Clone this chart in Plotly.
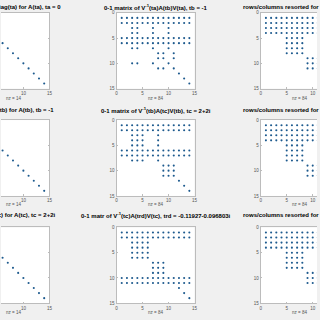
import plotly.graph_objects as go

N = 14
# left column: diagonal pattern
diag_idx = list(range(1, 15))

# middle column patterns (full rows + square blocks)
tb_full = [1, 2, 5, 6]
tb_blocks = [[3, 4, 7, 10], [8, 9, 11], [12], [13], [14]]
tc_full = [1, 2, 6, 7]
tc_blocks = [[3, 4, 5, 8], [9, 10, 11], [12], [13], [14]]
trd_full = [1, 2, 10, 11]
trd_blocks = [[3, 4, 5, 6], [7, 8, 9], [12], [13], [14]]
# right column: resorted pattern
rs_full = [1, 2, 3, 4]
rs_blocks = [[5, 6, 7, 8], [9, 10, 11], [12], [13], [14]]

left_titles = ["0-1 matrix of diag(ta) for A(ta), ta = 0",
               "0-1 matrix of diag(tb) for A(tb), tb = -1",
               "0-1 matrix of diag(tc) for A(tc), tc = 2+2i"]
mid_titles = ["0-1 matrix of V<sup>-1</sup>(ta)A(tb)V(ta), tb = -1",
              "0-1 matrix of V<sup>-1</sup>(tb)A(tc)V(tb), tc = 2+2i",
              "0-1 matr of V<sup>-1</sup>(tc)A(trd)V(tc), trd = -0.11927-0.096803i"]
right_titles = ["rows/columns resorted for V(ta)", "rows/columns resorted for V(tb)", "rows/columns resorted for V(tc)"]
nz_left = 14
nz_other = 84
ticks = [0, 5, 10, 15]


def pattern(full, blocks):
    rr, cc = [], []
    for r in full:
        for c in range(1, N + 1):
            rr.append(r); cc.append(c)
    for b in blocks:
        for r in b:
            for c in b:
                rr.append(r); cc.append(c)
    return cc, rr


W = 320.0
rows_px = [(11, 88), (120, 197), (229, 306)]
title_px = [5, 110, 216]
xlabel_px = [98, 206, 315]
left_title_end = [63, 56, 57]
cols = [  # (domain px left, right, xrange)
    (0, 49, [15 - 15 * 49 / 79, 15]),
    (117, 196, [0, 15]),
    (263, 320, [0, 15 * 57 / 79]),
]

mid_pats = [pattern(tb_full, tb_blocks), pattern(tc_full, tc_blocks), pattern(trd_full, trd_blocks)]
right_pat = pattern(rs_full, rs_blocks)

fig = go.Figure()
layout = dict(width=320, height=320, margin=dict(l=0, r=0, t=0, b=0),
              paper_bgcolor="#f0f0f0", plot_bgcolor="white", showlegend=False)
annotations = []
tfont = dict(family="Liberation Sans", size=4.5, color="#555555")
k = 0
for ri, (ytop, ybot) in enumerate(rows_px):
    for ci, (xl, xr, xrange) in enumerate(cols):
        k += 1
        xa = "xaxis" if k == 1 else f"xaxis{k}"
        ya = "yaxis" if k == 1 else f"yaxis{k}"
        xref = "x" if k == 1 else f"x{k}"
        yref = "y" if k == 1 else f"y{k}"
        if ci == 0:
            xs, ys = diag_idx, diag_idx
        elif ci == 1:
            xs, ys = mid_pats[ri]
        else:
            xs, ys = right_pat
        fig.add_trace(go.Scatter(x=xs, y=ys, mode="markers", xaxis=xref, yaxis=yref,
                                 marker=dict(size=2.1, color="#1d5a8e"), hoverinfo="skip"))
        layout[xa] = dict(domain=[xl / W, xr / W], range=xrange, anchor=yref,
                          tickvals=ticks, showgrid=False, zeroline=False,
                          showline=True, mirror=True, linecolor="#bcbcbc", linewidth=1,
                          ticks="inside", ticklen=1.5, tickcolor="#bcbcbc",
                          tickfont=tfont)
        ydict = dict(domain=[1 - ybot / W, 1 - ytop / W], range=[15, 0], anchor=xref,
                     tickvals=ticks, showgrid=False, zeroline=False,
                     showline=True, linecolor="#bcbcbc", linewidth=1,
                     ticks="inside", ticklen=1.5, tickcolor="#bcbcbc", tickfont=tfont)
        if ci == 0:
            ydict.update(side="right", showticklabels=False, mirror=False)
        elif ci == 1:
            ydict.update(mirror=True)
        else:
            ydict.update(mirror=False)
        layout[ya] = ydict
        # titles
        tf = dict(family="Liberation Sans", size=6.0, color="black")
        if ci == 0:
            annotations.append(dict(text="<b>" + left_titles[ri] + "</b>", x=left_title_end[ri] / W,
                                    xanchor="right", y=1 - title_px[ri] / W, yanchor="middle",
                                    xref="paper", yref="paper", showarrow=False, font=tf))
        elif ci == 1:
            annotations.append(dict(text="<b>" + mid_titles[ri] + "</b>", x=156.5 / W, xanchor="center",
                                    y=1 - title_px[ri] / W, yanchor="middle", xref="paper", yref="paper",
                                    showarrow=False, font=tf))
        else:
            annotations.append(dict(text="<b>" + right_titles[ri] + "</b>", x=243 / W, xanchor="left",
                                    y=1 - title_px[ri] / W, yanchor="middle", xref="paper", yref="paper",
                                    showarrow=False, font=tf))
        nz = nz_left if ci == 0 else nz_other
        cx = 13 if ci == 0 else ((117 + 196) / 2 if ci == 1 else (263 + 342) / 2)
        annotations.append(dict(text=f"nz = {nz}", x=cx / W, xanchor="center",
                                y=1 - xlabel_px[ri] / W, yanchor="middle", xref="paper", yref="paper",
                                showarrow=False, font=dict(family="Liberation Sans", size=4.5, color="#555555")))

layout["annotations"] = annotations
fig.update_layout(**layout)
fig.write_html("out.html")
